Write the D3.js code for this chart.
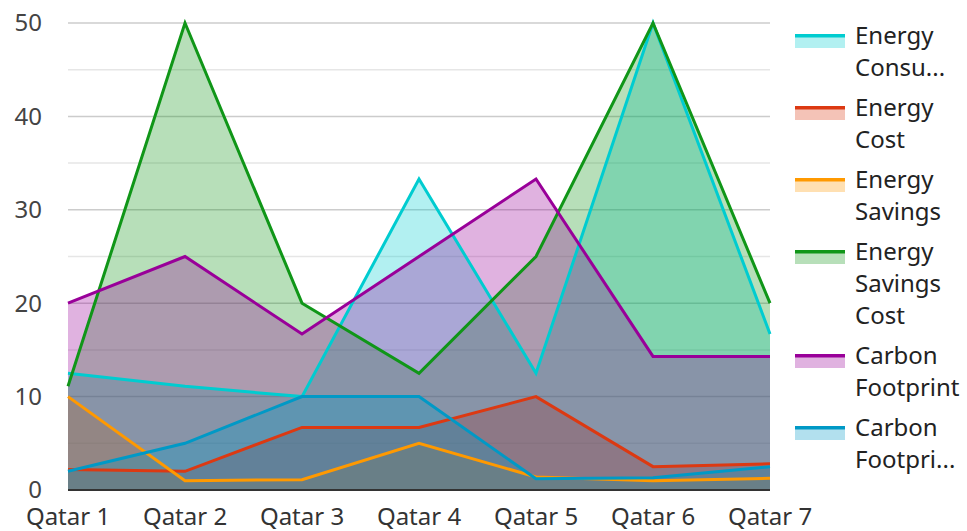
<!DOCTYPE html>
<html>
<head>
<script src="https://cdnjs.cloudflare.com/ajax/libs/d3/7.8.5/d3.min.js"></script>
<style>
  body { margin: 0; background: #fff; }
  text { font-family: "Noto Sans", "Open Sans", sans-serif; }
</style>
</head>
<body>
<script>
var categories = ['Qatar 1', 'Qatar 2', 'Qatar 3', 'Qatar 4', 'Qatar 5', 'Qatar 6', 'Qatar 7'];
var seriesNames = [['Energy', 'Consu...'], ['Energy', 'Cost'], ['Energy', 'Savings'],
                   ['Energy', 'Savings', 'Cost'], ['Carbon', 'Footprint'], ['Carbon', 'Footpri...']];
var colors = ['#00ccd0', '#dc3912', '#ff9900', '#109618', '#990099', '#0099c6'];

var energyConsumption = [12.5, 11.1, 10, 33.3, 12.5, 50, 16.7];
var energyCost = [2.2, 2, 6.7, 6.7, 10, 2.5, 2.8];
var energySavings = [10, 1, 1.1, 5, 1.4, 1, 1.25];
var energySavingsCost = [11.1, 50, 20, 12.5, 25, 50, 20];
var carbonFootprint = [20, 25, 16.7, 25, 33.3, 14.3, 14.3];
var carbonFootprint2 = [2, 5, 10, 10, 1.2, 1.3, 2.5];

var allSeries = [energyConsumption, energyCost, energySavings, energySavingsCost, carbonFootprint, carbonFootprint2];
var yTicks = [0, 10, 20, 30, 40, 50];

var width = 967, height = 531;
var plotLeft = 68, plotRight = 770, plotTop = 23, plotBottom = 490;

var svg = d3.select('body').append('svg')
    .attr('width', width)
    .attr('height', height);

var x = d3.scalePoint().domain(categories).range([plotLeft, plotRight]);
var y = d3.scaleLinear().domain([0, 50]).range([plotBottom, plotTop]);

// minor gridlines
svg.append('g').selectAll('line')
    .data(d3.range(5, 50, 10))
    .enter().append('line')
    .attr('x1', plotLeft).attr('x2', plotRight)
    .attr('y1', function(d) { return y(d); })
    .attr('y2', function(d) { return y(d); })
    .attr('stroke', '#e6e6e6').attr('stroke-width', 1.5);

// major gridlines
svg.append('g').selectAll('line')
    .data(yTicks.slice(1))
    .enter().append('line')
    .attr('x1', plotLeft).attr('x2', plotRight)
    .attr('y1', function(d) { return y(d); })
    .attr('y2', function(d) { return y(d); })
    .attr('stroke', '#cccccc').attr('stroke-width', 1.5);

var area = d3.area()
    .x(function(d, i) { return x(categories[i]); })
    .y0(y(0))
    .y1(function(d) { return y(d); });

var line = d3.line()
    .x(function(d, i) { return x(categories[i]); })
    .y(function(d) { return y(d); });

allSeries.forEach(function(s, i) {
    svg.append('path')
        .attr('d', area(s))
        .attr('fill', colors[i])
        .attr('fill-opacity', 0.3);
});

allSeries.forEach(function(s, i) {
    svg.append('path')
        .attr('d', line(s))
        .attr('fill', 'none')
        .attr('stroke', colors[i])
        .attr('stroke-width', 3)
        .attr('stroke-linejoin', 'miter');
});

// baseline
svg.append('line')
    .attr('x1', plotLeft).attr('x2', plotRight)
    .attr('y1', y(0)).attr('y2', y(0))
    .attr('stroke', '#333').attr('stroke-width', 2);

// y labels
svg.append('g').selectAll('text')
    .data(yTicks)
    .enter().append('text')
    .attr('x', 42)
    .attr('y', function(d) { return y(d); })
    .attr('dy', '0.35em')
    .attr('text-anchor', 'end')
    .attr('font-size', 24)
    .attr('fill', '#444')
    .text(function(d) { return d; });

// x labels
svg.append('g').selectAll('text')
    .data(categories)
    .enter().append('text')
    .attr('x', function(d) { return x(d); })
    .attr('y', 517)
    .attr('dy', '0.35em')
    .attr('text-anchor', 'middle')
    .attr('font-size', 24)
    .attr('fill', '#333')
    .text(function(d) { return d; });

// legend
var ly = 36;
seriesNames.forEach(function(names, i) {
    var g = svg.append('g').attr('transform', 'translate(795,' + ly + ')');
    g.append('rect')
        .attr('x', 0).attr('y', 0).attr('width', 50).attr('height', 12)
        .attr('fill', colors[i]).attr('fill-opacity', 0.3);
    g.append('rect')
        .attr('x', 0).attr('y', -2).attr('width', 50).attr('height', 3.5)
        .attr('fill', colors[i]);
    names.forEach(function(t, j) {
        g.append('text')
            .attr('x', 60)
            .attr('y', j * 32)
            .attr('dy', '0.35em')
            .attr('font-size', 24)
            .attr('fill', '#222')
            .text(t);
    });
    ly += names.length * 32 + 8;
});
</script>
</body>
</html>
